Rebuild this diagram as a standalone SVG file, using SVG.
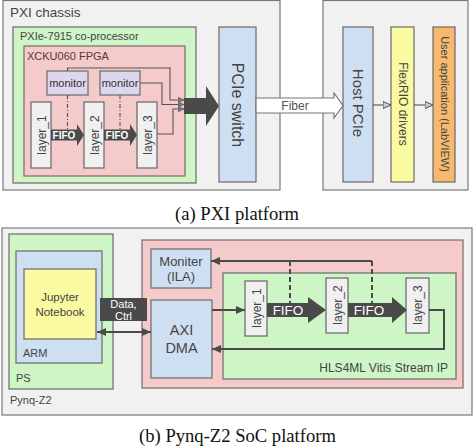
<svg xmlns="http://www.w3.org/2000/svg" width="474" height="447" viewBox="0 0 474 447">
<style>
text{font-family:"Liberation Sans",Arial,sans-serif;fill:#444}
.cap{font-family:"Liberation Serif","Times New Roman",serif;font-size:18.6px;fill:#111}
.bg{fill:#f1f1f1;stroke:#7a7a7a;stroke-width:1.2}
.grn{fill:#cdf5c5;stroke:#6a6a6a;stroke-width:1.2}
.pnk{fill:#f5caca;stroke:#7a6a6a;stroke-width:1.2}
.blu{fill:#cedff2;stroke:#6a6a6a;stroke-width:1.2}
.yel{fill:#fafaa0;stroke:#6a6a6a;stroke-width:1.2}
.org{fill:#f6b96e;stroke:#6a6a6a;stroke-width:1.2}
.lav{fill:#dcd6ee;stroke:#6a6a6a;stroke-width:1.2}
.lay{fill:#f0f0f0;stroke:#666;stroke-width:1.2}
.dark{fill:#4a4a4a}
.fifo{fill:#fff;font-weight:bold}
.fifob{fill:#fff}
.thin{fill:none;stroke:#555;stroke-width:1.1}
.thick{fill:none;stroke:#4a4a4a;stroke-width:2}
</style>
<defs>
<marker id="ah" markerUnits="userSpaceOnUse" markerWidth="6" markerHeight="6" refX="6" refY="3" orient="auto"><path d="M0,0 L6,3 L0,6 z" fill="#777" stroke="#555" stroke-width="0.5"/></marker>
<marker id="op" markerUnits="userSpaceOnUse" markerWidth="9" markerHeight="8" refX="8.5" refY="4" orient="auto"><path d="M0.5,0.5 L8.5,4 L0.5,7.5 z" fill="#ccc" stroke="#555" stroke-width="1"/></marker>
<marker id="ab" markerUnits="userSpaceOnUse" markerWidth="9" markerHeight="8" refX="9" refY="4" orient="auto-start-reverse"><path d="M0,0 L9,4 L0,8 z" fill="#4a4a4a"/></marker>
</defs>

<!-- (a) PXI platform -->
<g id="pxi-chassis"><rect class="bg" x="3" y="0.5" width="277" height="189.5"/><text x="10" y="17" font-size="13.5">PXI chassis</text></g>
<g id="pxie-7915"><rect class="grn" x="13" y="27" width="183" height="156"/><text x="20" y="40" font-size="11">PXIe-7915 co-processor</text></g>
<g id="fpga"><rect class="pnk" x="24" y="46" width="161" height="130"/><text x="27" y="60" font-size="11" style="fill:#5a3636">XCKU060 FPGA</text></g>
<g id="monitor1"><rect class="lav" x="47" y="71" width="41" height="24"/><text x="67.5" y="87" font-size="11" text-anchor="middle" style="fill:#333">monitor</text></g>
<g id="monitor2"><rect class="lav" x="100" y="71" width="40" height="24"/><text x="120" y="87" font-size="11" text-anchor="middle" style="fill:#333">monitor</text></g>
<g id="layer1-a"><rect class="lay" x="31" y="102" width="20" height="66"/><text transform="translate(45.5,135) rotate(-90)" font-size="12" text-anchor="middle">layer_1</text></g>
<g id="layer2-a"><rect class="lay" x="84" y="102" width="20" height="66"/><text transform="translate(98.5,135) rotate(-90)" font-size="12" text-anchor="middle">layer_2</text></g>
<g id="layer3-a"><rect class="lay" x="137" y="102" width="20" height="66"/><text transform="translate(151.5,135) rotate(-90)" font-size="12" text-anchor="middle">layer_3</text></g>
<g id="pcie-switch"><rect class="blu" x="219" y="27" width="37" height="155"/><text transform="translate(232,105) rotate(90)" font-size="16" text-anchor="middle">PCIe switch</text></g>
<g id="host"><rect class="bg" x="323" y="0.5" width="145" height="189.5"/></g>
<g id="host-pcie"><rect class="blu" x="343" y="27" width="30" height="155"/><text transform="translate(353,103) rotate(90)" font-size="15" text-anchor="middle">Host PCIe</text></g>
<g id="flexrio"><rect class="yel" x="391" y="27" width="23" height="155"/><text transform="translate(398.5,104) rotate(90)" font-size="12" text-anchor="middle">FlexRIO drivers</text></g>
<g id="user-app"><rect class="org" x="433" y="27" width="22" height="155"/><text transform="translate(440.5,104) rotate(90)" font-size="11" text-anchor="middle">User application (LabVIEW)</text></g>

<g id="connectors-a">
<path class="dark" d="M51,129.5 H77 V124 L84,135 L77,146 V140.5 H51 z"/>
<text class="fifo" x="64" y="139" font-size="10" text-anchor="middle">FIFO</text>
<path class="dark" d="M104,129.5 H130 V124 L137,135 L130,146 V140.5 H104 z"/>
<text class="fifo" x="117" y="139" font-size="10" text-anchor="middle">FIFO</text>
<path class="thin" stroke-dasharray="4,2,1,2" d="M67.5,95 V129.5 M120,95 V129.5"/>
<path class="thin" marker-end="url(#ah)" d="M67.5,71 V68 H170 V100 H184"/>
<path class="thin" marker-end="url(#ah)" d="M140,83 H162 V104.5 H184"/>
<path class="thin" marker-end="url(#ah)" d="M157,134 H173 V109 H184"/>
<path class="dark" d="M184,98 H206 V86 L219,106 L206,126 V114 H184 z"/>
<path d="M256,98 H334 V93 L343,105.5 L334,118 V113 H256 z" fill="#fff" stroke="#777" stroke-width="1.2"/>
<text x="295" y="110" font-size="12" text-anchor="middle" style="fill:#555">Fiber</text>
<path class="thin" marker-end="url(#op)" d="M373,105 H391"/>
<path class="thin" marker-end="url(#op)" d="M414,105 H433"/>
</g>
<text class="cap" x="237" y="220" text-anchor="middle">(a) PXI platform</text>

<!-- (b) Pynq-Z2 SoC platform -->
<g id="pynq-z2"><rect class="bg" x="2" y="228" width="470" height="187"/><text x="10" y="404" font-size="11">Pynq-Z2</text></g>
<g id="ps"><rect class="grn" x="9" y="234" width="104" height="155"/><text x="16" y="382" font-size="11">PS</text></g>
<g id="arm"><rect class="blu" x="16" y="251" width="86" height="112"/><text x="23" y="357" font-size="11">ARM</text></g>
<g id="jupyter"><rect class="yel" x="24" y="269" width="72" height="70"/><text x="60" y="301" font-size="11.5" text-anchor="middle">Jupyter</text><text x="60" y="316" font-size="11.5" text-anchor="middle">Notebook</text></g>
<g id="pl"><rect class="pnk" x="142" y="240" width="321" height="148"/></g>
<g id="moniter"><rect class="blu" x="151" y="249" width="60" height="39"/><text x="181" y="266" font-size="13" text-anchor="middle">Moniter</text><text x="181" y="281" font-size="13" text-anchor="middle">(ILA)</text></g>
<g id="axi-dma"><rect class="blu" x="151" y="300" width="61" height="78"/><text x="181.5" y="335" font-size="14.5" text-anchor="middle">AXI</text><text x="181.5" y="353" font-size="14.5" text-anchor="middle">DMA</text></g>
<g id="hls4ml"><rect class="grn" x="223" y="273" width="233" height="106"/><text x="448" y="372" font-size="12" text-anchor="end">HLS4ML Vitis Stream IP</text></g>
<g id="layer1-b"><rect class="lay" x="245" y="281" width="22" height="55"/><text transform="translate(260.5,308) rotate(-90)" font-size="12" text-anchor="middle">layer_1</text></g>
<g id="layer2-b"><rect class="lay" x="326" y="278" width="22" height="55"/><text transform="translate(341.5,305) rotate(-90)" font-size="12" text-anchor="middle">layer_2</text></g>
<g id="layer3-b"><rect class="lay" x="406" y="278" width="23" height="55"/><text transform="translate(422,305) rotate(-90)" font-size="12" text-anchor="middle">layer_3</text></g>

<g id="connectors-b">
<path class="thick" marker-end="url(#ab)" d="M372,261 H211"/>
<path class="thick" stroke-dasharray="5,3" d="M290,261 V303 M372,261 V303"/>
<path class="dark" d="M267,303 H308 V297 L326,310 L308,323 V317 H267 z"/>
<text class="fifob" x="288" y="315" font-size="13.5" text-anchor="middle">FIFO</text>
<path class="dark" d="M348,303 H392 V297 L407,310 L392,323 V317 H348 z"/>
<text class="fifob" x="369" y="315" font-size="13.5" text-anchor="middle">FIFO</text>
<path class="thick" marker-end="url(#ab)" d="M212,310 H245"/>
<path class="thick" marker-end="url(#ab)" d="M429,310 H444 V349 H212"/>
<path class="thick" marker-start="url(#ab)" marker-end="url(#ab)" d="M97,332 H151"/>
<rect class="dark" x="100" y="298" width="47" height="23"/>
<text x="123.5" y="308" font-size="11" text-anchor="middle" style="fill:#fff">Data,</text>
<text x="123.5" y="320" font-size="11" text-anchor="middle" style="fill:#fff">Ctrl</text>
</g>
<text class="cap" x="237.5" y="442" text-anchor="middle">(b) Pynq-Z2 SoC platform</text>
</svg>
